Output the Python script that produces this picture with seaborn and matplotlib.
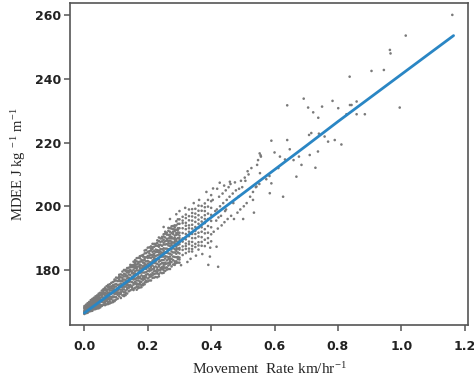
import numpy as np
import pandas as pd
import matplotlib
matplotlib.use("Agg")
import matplotlib.pyplot as plt
import seaborn as sns

# Dense cloud: column positions (km/hr) and the MDEE values read in each column
band_x = [0.000, 0.005, 0.010, 0.015, 0.020, 0.025, 0.030, 0.035, 0.040, 0.045,
          0.050, 0.055, 0.060, 0.065, 0.070, 0.075, 0.080, 0.085, 0.090, 0.095,
          0.100, 0.105, 0.110, 0.115, 0.120, 0.125, 0.130, 0.135, 0.140, 0.145,
          0.150, 0.155, 0.160, 0.165, 0.170, 0.175, 0.180, 0.185, 0.190, 0.195,
          0.200, 0.205, 0.210, 0.215, 0.220, 0.225, 0.230, 0.235, 0.240, 0.245,
          0.250, 0.255, 0.260, 0.265, 0.270, 0.275, 0.280, 0.285, 0.290, 0.295,
          0.300, 0.31, 0.32, 0.33, 0.34, 0.35, 0.36, 0.37, 0.38, 0.39, 0.40]

band_y = [
    [166.19, 166.39, 166.74, 166.94, 167.34, 167.94, 168.19, 168.64],
    [166.43, 166.83, 167.38, 167.98, 168.48, 169.08],
    [166.54, 166.84, 167.39, 167.74, 168.19, 168.44, 168.89, 169.24, 169.54],
    [166.96, 167.26, 167.51, 168.01, 168.61, 169.01, 169.16, 169.41, 169.96],
    [167.08, 167.28, 167.88, 168.38, 168.58, 169.03, 169.63, 169.93, 170.53],
    [167.19, 167.69, 168.09, 168.29, 168.44, 168.84, 169.39, 169.64, 169.79, 170.39, 170.89],
    [167.61, 167.96, 168.31, 168.71, 169.31, 169.56, 169.86, 170.01, 170.51, 171.06, 171.26],
    [167.70, 167.85, 168.30, 168.55, 169.10, 169.55, 169.80, 169.95, 170.50, 171.10, 171.70],
    [167.90, 168.15, 168.70, 168.85, 169.15, 169.50, 170.05, 170.30, 170.70, 171.00, 171.35,
     171.60, 171.80, 172.00],
    [167.96, 168.41, 168.91, 169.51, 170.06, 170.31, 170.51, 170.86, 171.41, 171.56, 172.11,
     172.56],
    [168.25, 168.75, 169.15, 170.15, 170.55, 171.05, 171.25, 172.05, 172.85],
    [168.70, 168.90, 170.00, 170.50, 171.50, 172.10, 172.70, 173.50],
    [169.05, 169.75, 170.45, 170.65, 171.35, 172.35, 172.75, 173.15, 173.65, 173.95],
    [168.95, 169.65, 170.15, 170.85, 171.95, 172.55, 172.75, 173.75, 174.05, 174.45],
    [169.20, 170.20, 170.50, 170.80, 171.10, 172.00, 172.60, 173.30, 173.50, 173.90, 174.90],
    [169.30, 169.50, 169.90, 170.80, 171.00, 171.30, 172.40, 172.90, 173.90, 174.60, 175.00,
     175.30],
    [169.50, 170.20, 170.90, 171.60, 172.70, 173.50, 174.10, 174.70, 175.50],
    [169.75, 170.85, 171.45, 172.45, 173.55, 174.25, 174.85, 175.95],
    [169.90, 170.40, 171.40, 171.70, 172.80, 173.60, 174.20, 174.80, 175.20, 176.20],
    [170.20, 170.40, 171.50, 172.40, 173.10, 173.90, 174.70, 175.40, 176.50, 177.00],
    [170.7, 171.5, 172.5, 173.0, 173.6, 174.8, 175.6, 176.7, 177.6],
    [171.0, 172.2, 172.8, 173.5, 174.2, 175.3, 176.5, 177.5],
    [171.7, 172.4, 172.9, 173.9, 174.8, 175.4, 176.5, 177.0, 177.6, 178.0, 178.5],
    [171.2, 172.5, 173.0, 173.8, 174.7, 175.7, 176.5, 177.7, 178.6],
    [172.0, 173.3, 173.9, 174.6, 175.4, 176.4, 176.8, 177.5, 178.3, 179.5],
    [171.8, 172.2, 173.0, 173.9, 174.7, 175.4, 176.0, 177.0, 178.0, 178.8, 180.0],
    [172.1, 172.8, 173.5, 174.8, 175.5, 176.5, 176.9, 178.0, 178.6, 179.6, 180.0],
    [172.6, 173.9, 174.4, 175.2, 175.7, 176.3, 177.4, 178.1, 179.2, 179.8, 180.6],
    [173.3, 174.4, 174.8, 175.2, 176.2, 177.2, 177.6, 178.6, 179.3, 179.8, 180.7],
    [173.6, 174.8, 175.3, 176.4, 177.2, 178.4, 179.6, 180.1, 181.0, 181.6],
    [173.9, 174.5, 174.9, 176.2, 177.2, 177.8, 179.0, 179.6, 180.9, 181.5],
    [173.7, 174.1, 175.4, 175.9, 177.0, 177.5, 178.4, 179.1, 180.1, 180.9, 181.6, 182.6],
    [174.4, 175.7, 176.3, 177.2, 178.5, 178.9, 179.6, 180.6, 181.0, 181.4, 181.9, 182.4, 183.1],
    [173.8, 174.7, 175.4, 175.8, 176.7, 177.5, 178.7, 179.9, 180.5, 180.9, 181.7, 182.7, 183.7],
    [174.3, 174.8, 175.5, 176.7, 177.5, 178.0, 178.8, 179.8, 181.1, 182.0, 182.5, 183.8],
    [174.5, 175.4, 175.9, 176.4, 177.4, 177.8, 179.1, 179.9, 180.6, 181.3, 181.7, 182.6, 183.7,
     184.3],
    [174.6, 175.3, 176.3, 177.2, 178.3, 179.2, 180.5, 181.4, 182.7, 183.2, 184.5],
    [175.2, 175.6, 176.9, 177.5, 178.0, 179.2, 180.2, 180.7, 181.2, 182.3, 183.0, 184.2, 184.7],
    [175.5, 176.1, 177.1, 177.6, 178.1, 179.2, 180.5, 181.2, 181.7, 182.1, 183.0, 183.5, 184.0,
     185.2, 186.1],
    [176.2, 176.6, 177.7, 178.5, 179.3, 180.3, 180.9, 181.6, 182.7, 184.0, 185.3, 186.3],
    [176.4, 177.3, 178.7, 179.7, 180.8, 182.0, 182.8, 183.8, 184.4, 185.7, 187.0],
    [176.7, 177.7, 178.4, 179.6, 180.3, 181.2, 182.5, 183.9, 184.5, 185.2, 185.9, 187.1],
    [176.7, 178.0, 178.6, 179.9, 180.7, 181.2, 181.8, 182.4, 183.8, 184.7, 186.1, 186.7, 187.4],
    [177.5, 178.3, 179.1, 180.2, 181.4, 182.2, 183.0, 184.1, 184.8, 185.7, 186.6, 187.1, 188.2],
    [177.6, 178.7, 179.6, 180.4, 180.9, 182.2, 183.3, 183.8, 184.5, 185.1, 185.9, 187.3, 188.2],
    [177.8, 178.9, 179.7, 181.1, 182.1, 182.8, 183.5, 184.4, 185.6, 186.4, 187.6, 188.2],
    [177.7, 178.9, 179.4, 180.1, 180.7, 181.9, 183.3, 184.6, 185.7, 186.2, 187.6, 188.5, 189.3],
    [178.0, 178.7, 179.9, 181.1, 181.6, 182.6, 183.4, 184.8, 185.5, 186.1, 187.3, 187.9, 189.1,
     190.2],
    [179.2, 180.0, 180.6, 181.8, 182.9, 184.1, 185.1, 185.8, 186.6, 187.9, 188.8, 189.9],
    [179.0, 180.3, 180.9, 182.2, 183.1, 184.2, 185.4, 186.5, 187.6, 189.0, 189.9, 190.4],
    [179.1, 179.9, 180.6, 181.1, 181.6, 182.1, 183.1, 184.2, 185.5, 186.1, 186.8, 188.0, 188.6,
     189.5, 190.5, 191.2, 193.5],
    [179.7, 180.7, 181.8, 182.3, 183.6, 184.3, 185.5, 186.7, 188.0, 189.0, 190.2, 191.4, 192.0],
    [180.1, 180.8, 182.0, 183.0, 184.2, 185.4, 186.7, 188.1, 189.2, 189.7, 191.1, 191.7],
    [180.3, 181.4, 182.2, 183.4, 184.0, 185.2, 186.5, 187.7, 188.4, 189.0, 189.9, 191.0, 192.3,
     193.2],
    [180.3, 181.7, 182.2, 182.8, 183.5, 184.2, 185.1, 186.5, 187.5, 188.3, 189.2, 190.0, 190.5,
     191.1, 192.0, 193.1, 196.0],
    [181.1, 182.5, 183.5, 184.8, 185.8, 186.6, 187.8, 188.4, 188.9, 189.9, 190.4, 191.6, 193.0,
     193.7],
    [181.7, 183.1, 184.2, 185.5, 186.9, 187.6, 188.6, 189.9, 191.3, 192.0, 192.8, 193.8],
    [181.6, 182.1, 182.7, 184.1, 185.5, 186.5, 187.6, 188.2, 188.8, 189.5, 190.1, 190.8, 192.2,
     192.7, 193.4, 194.0],
    [182.2, 182.7, 184.0, 185.1, 186.0, 186.5, 187.3, 188.2, 189.1, 189.7, 191.0, 191.6, 192.6,
     194.0, 195.3, 197.5],
    [182.3, 183.4, 184.1, 185.5, 186.7, 187.9, 188.8, 190.0, 191.2, 191.8, 192.6, 193.1, 194.5,
     195.9],
    [182.3, 183.3, 183.9, 185.2, 186.4, 186.9, 188.1, 188.8, 189.4, 190.0, 190.8, 191.7, 193.1,
     194.5, 195.9, 198.5],
    [184.7, 186.3, 187.4, 188.9, 189.9, 191.6, 193.1, 194.7, 195.5, 196.7],
    [185.3, 186.6, 187.5, 188.3, 189.6, 191.3, 192.8, 193.9, 194.8, 196.3, 197.4],
    [185.8, 186.7, 188.1, 188.9, 190.6, 192.0, 193.1, 194.0, 195.6, 196.9, 199.0],
    [185.8, 186.6, 187.6, 188.8, 190.0, 191.3, 193.0, 194.2, 195.5, 196.8, 197.9, 199.1],
    [187.2, 188.2, 190.0, 191.3, 192.3, 193.5, 195.1, 196.5, 197.7, 199.2],
    [186.4, 187.7, 188.7, 190.5, 191.7, 193.2, 194.5, 195.8, 197.2, 198.6, 200.2],
    [187.6, 188.8, 190.3, 192.0, 193.4, 195.2, 196.5, 198.6, 200.1],
    [187.5, 189.5, 191.5, 192.8, 194.7, 196.0, 197.2, 198.5, 199.7, 200.9],
    [188.5, 190.0, 191.7, 193.8, 196.0, 197.7, 199.9, 202.0],
    [189.0, 191.2, 193.4, 195.4, 197.3, 199.5, 201.6, 203.5],
]

# Thinning part of the cloud, 0.30 - 0.56 km/hr
mid_x = [0.408, 0.413, 0.405, 0.416, 0.421, 0.418, 0.425, 0.423, 0.419, 0.433,
         0.428, 0.436, 0.431, 0.442, 0.438, 0.446, 0.444, 0.441, 0.452, 0.449,
         0.455, 0.447, 0.463, 0.458, 0.461, 0.472, 0.468, 0.475, 0.470, 0.483,
         0.478, 0.486, 0.492, 0.488, 0.494, 0.503, 0.498, 0.506, 0.501, 0.512,
         0.508, 0.515, 0.523, 0.518, 0.532, 0.527, 0.535, 0.541, 0.545, 0.552,
         0.548, 0.556, 0.335, 0.352, 0.372, 0.318, 0.362, 0.385, 0.345, 0.397,
         0.305, 0.325]
mid_y = [192.0, 198.5, 202.0, 195.5, 193.0, 199.0, 203.0, 196.5, 205.5, 194.0,
         200.0, 204.0, 197.0, 195.0, 201.0, 205.0, 198.5, 206.5, 196.0, 202.0,
         206.0, 199.0, 197.0, 203.0, 207.0, 196.0, 204.0, 207.5, 201.0, 198.0,
         205.0, 203.0, 199.0, 205.5, 208.0, 200.0, 206.0, 209.0, 196.0, 201.0,
         208.0, 211.0, 203.0, 210.0, 204.5, 212.0, 198.0, 206.0, 213.0, 207.0,
         214.5, 216.0, 183.5, 184.5, 185.0, 199.5, 202.0, 204.5, 201.0, 187.0,
         181.5, 182.5]

# Scattered points away from the main cloud
sparse_x = [1.161, 1.014, 0.964, 0.966, 0.906, 0.945, 0.837, 0.995, 0.692, 0.640,
            0.783, 0.859, 0.706, 0.750, 0.801, 0.838, 0.843, 0.722, 0.738, 0.859,
            0.885, 0.827, 0.590, 0.640, 0.648, 0.553, 0.557, 0.600, 0.617, 0.633,
            0.660, 0.677, 0.685, 0.709, 0.716, 0.740, 0.711, 0.729, 0.737, 0.758,
            0.769, 0.790, 0.811, 0.554, 0.574, 0.590, 0.585, 0.627, 0.669, 0.543,
            0.532, 0.391, 0.422, 0.396, 0.417, 0.406, 0.427, 0.459, 0.612, 0.584]
sparse_y = [260.1, 253.6, 249.1, 248.0, 242.5, 242.8, 240.7, 231.0, 233.8, 231.7,
            233.1, 232.9, 231.0, 231.3, 230.8, 231.8, 231.8, 229.5, 227.8, 228.9,
            228.9, 228.9, 220.6, 220.8, 217.9, 216.6, 215.6, 216.9, 215.6, 214.7,
            214.5, 215.6, 213.0, 222.4, 223.0, 222.8, 216.1, 212.1, 217.2, 221.9,
            220.3, 220.8, 219.4, 210.4, 208.5, 207.2, 204.1, 203.0, 209.3, 206.2,
            202.0, 181.6, 181.0, 184.2, 187.3, 205.6, 207.4, 207.7, 212.0, 209.5]

# Fitted line
fit_x = [0.0, 0.1, 0.2, 0.3, 0.4, 0.5, 0.6, 0.7, 0.8, 0.9, 1.0, 1.1, 1.165]
fit_y = [166.5, 173.8, 181.2, 188.8, 196.5, 204.0, 211.5, 219.0, 226.6, 234.0, 241.4, 248.8, 253.6]

x_ticks = [0.0, 0.2, 0.4, 0.6, 0.8, 1.0, 1.2]
y_ticks = [180, 200, 220, 240, 260]

# Build the point table
rows = []
for bx, ys in zip(band_x, band_y):
    for by in ys:
        rows.append((bx, by))
rows += list(zip(mid_x, mid_y))
rows += list(zip(sparse_x, sparse_y))
df = pd.DataFrame(rows, columns=["rate", "mdee"])
fit = pd.DataFrame({"rate": fit_x, "mdee": fit_y})

sns.set_style("ticks")
plt.rcParams["mathtext.fontset"] = "stix"

fig = plt.figure(figsize=(4.74, 3.81), dpi=100)
ax = fig.add_axes([0.148, 0.146, 0.839, 0.845])

sns.scatterplot(data=df, x="rate", y="mdee", ax=ax, s=3.5, color="#7a7a7a",
                edgecolor="none", linewidth=0)
sns.lineplot(data=fit, x="rate", y="mdee", ax=ax, color="#2a86c4", linewidth=2.0)

ax.set_xlim(-0.045, 1.21)
ax.set_ylim(162.6, 263.7)
ax.set_xticks(x_ticks)
ax.set_xticklabels(["%.1f" % t for t in x_ticks])
ax.set_yticks(y_ticks)

for s in ax.spines.values():
    s.set_color("#555555")
    s.set_linewidth(1.2)
ax.tick_params(axis="both", length=4.5, width=1.1, color="#555555", labelsize=9)
ax.tick_params(axis="x", pad=6)
ax.tick_params(axis="y", pad=2)
for lab in ax.get_xticklabels() + ax.get_yticklabels():
    lab.set_fontfamily("DejaVu Sans")
    lab.set_fontweight("bold")
    lab.set_color("#222222")

ax.set_xlabel(r"Movement  Rate km/hr$^{\mathregular{-1}}$",
              family="Liberation Serif", fontsize=11, labelpad=5)
ax.set_ylabel(r"MDEE J kg$^{\mathregular{\ -1}}$ m$^{\mathregular{-1}}$",
              family="Liberation Serif", fontsize=10.5, labelpad=5)

fig.savefig("out.png", dpi=100)
